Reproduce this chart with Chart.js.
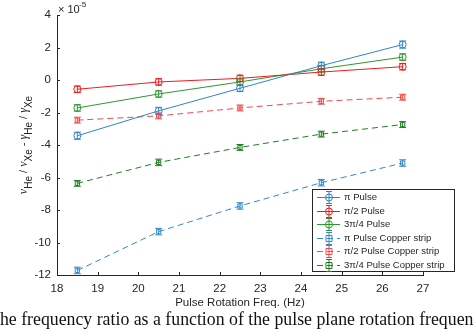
<!DOCTYPE html>
<html>
<head>
<meta charset="utf-8">
<script src="https://cdn.jsdelivr.net/npm/chart.js@4"></script>
<style>
  html, body { margin: 0; padding: 0; background: #fff; overflow: hidden; }
  #wrap { position: relative; width: 474px; height: 330px; }
  #caption {
    position: absolute; left: -5px; top: 309px; white-space: nowrap;
    font: 17.8px "Liberation Serif", "Times New Roman", serif; color: #111;
  }
</style>
</head>
<body>
<div id="wrap">
  <canvas id="ratioChart" width="474" height="330"></canvas>
  <div id="caption">the frequency ratio as a function of the pulse plane rotation frequency</div>
</div>
<script>
// Pulse rotation frequency (Hz)
const freqs = [18.5, 20.5, 22.5, 24.5, 26.5];

// values in units of 1e-5
const piPulse        = [-3.43, -1.90, -0.51, 0.88, 2.18];
const halfPiPulse    = [-0.57, -0.12, 0.10, 0.49, 0.82];
const threeQPulse    = [-1.72, -0.86, -0.12, 0.69, 1.41];
const piCopper       = [-11.72, -9.33, -7.75, -6.32, -5.11];
const halfPiCopper   = [-2.47, -2.21, -1.72, -1.31, -1.06];
const threeQCopper   = [-6.36, -5.07, -4.15, -3.33, -2.74];

// error bar half-widths (1e-5)
const piPulseErr      = [0.22, 0.22, 0.2, 0.22, 0.22];
const halfPiPulseErr  = [0.2, 0.2, 0.2, 0.2, 0.2];
const threeQPulseErr  = [0.2, 0.2, 0.2, 0.2, 0.2];
const piCopperErr     = [0.2, 0.2, 0.2, 0.2, 0.2];
const halfPiCopperErr = [0.18, 0.18, 0.18, 0.18, 0.18];
const threeQCopperErr = [0.18, 0.2, 0.18, 0.18, 0.18];

const xTicks = [18, 19, 20, 21, 22, 23, 24, 25, 26, 27];
const yTicks = [-12, -10, -8, -6, -4, -2, 0, 2, 4];

function series(label, values, errs, color, dashed) {
    return {
        label: label,
        data: freqs.map((f, i) => ({ x: f, y: values[i] })),
        errors: errs,
        borderColor: color,
        backgroundColor: 'rgba(255,255,255,0)',
        borderWidth: 1,
        borderDash: dashed ? [6, 4] : [],
        pointStyle: dashed ? 'rect' : 'circle',
        pointRadius: dashed ? 3 : 3.5,
        pointBorderWidth: 1,
        pointBorderColor: color,
        pointBackgroundColor: 'rgba(255,255,255,0)',
        tension: 0
    };
}

const datasets = [
    series('\u03c0 Pulse', piPulse, piPulseErr, '#2e86c9', false),
    series('\u03c0/2 Pulse', halfPiPulse, halfPiPulseErr, '#ee1c1c', false),
    series('3\u03c0/4 Pulse', threeQPulse, threeQPulseErr, '#2f972f', false),
    series('\u03c0 Pulse Copper strip', piCopper, piCopperErr, '#3389c7', true),
    series('\u03c0/2 Pulse Copper strip', halfPiCopper, halfPiCopperErr, '#f04848', true),
    series('3\u03c0/4 Pulse Copper strip', threeQCopper, threeQCopperErr, '#1f7f1f', true)
];

const axisColor = '#262626';

// error bars, inward ticks, titles, legend
const extras = {
    id: 'extras',
    afterDatasetsDraw(chart) {
        const ctx = chart.ctx;
        const ys = chart.scales.y;
        chart.data.datasets.forEach((ds, di) => {
            const meta = chart.getDatasetMeta(di);
            ctx.save();
            ctx.strokeStyle = ds.borderColor;
            ctx.lineWidth = 1;
            meta.data.forEach((pt, i) => {
                const e = ds.errors[i];
                const top = ys.getPixelForValue(ds.data[i].y + e);
                const bot = ys.getPixelForValue(ds.data[i].y - e);
                ctx.beginPath();
                ctx.moveTo(pt.x, top); ctx.lineTo(pt.x, bot);
                ctx.moveTo(pt.x - 3.5, top); ctx.lineTo(pt.x + 3.5, top);
                ctx.moveTo(pt.x - 3.5, bot); ctx.lineTo(pt.x + 3.5, bot);
                ctx.stroke();
            });
            ctx.restore();
        });
    },
    afterDraw(chart) {
        const ctx = chart.ctx;
        const a = chart.chartArea;
        const xs = chart.scales.x, ys = chart.scales.y;
        ctx.save();
        ctx.strokeStyle = axisColor;
        ctx.lineWidth = 1;
        ctx.beginPath();
        xTicks.forEach(t => {
            const px = Math.round(xs.getPixelForValue(t)) + 0.5;
            ctx.moveTo(px, a.bottom); ctx.lineTo(px, a.bottom - 3);
        });
        yTicks.forEach(t => {
            const py = Math.round(ys.getPixelForValue(t)) + 0.5;
            ctx.moveTo(a.left, py); ctx.lineTo(a.left + 3, py);
        });
        ctx.stroke();

        // x10^-5 label
        ctx.fillStyle = axisColor;
        ctx.font = '11px "Liberation Sans", Arial, sans-serif';
        ctx.textBaseline = 'alphabetic';
        ctx.textAlign = 'left';
        ctx.fillText('\u00d7 10', a.left + 1, 13);
        ctx.font = '8px "Liberation Sans", Arial, sans-serif';
        ctx.fillText('-5', a.left + 22, 7);

        // x axis title
        ctx.font = '11.5px "Liberation Sans", Arial, sans-serif';
        ctx.textAlign = 'center';
        ctx.textBaseline = 'middle';
        ctx.fillText('Pulse Rotation Freq. (Hz)', (a.left + a.right) / 2, 303);

        // y axis title with subscripts
        ctx.translate(27, (a.top + a.bottom) / 2);
        ctx.rotate(-Math.PI / 2);
        const parts = [
            ['\u03bd', 'i'], ['He', 's'], [' / ', 'n'], ['\u03bd', 'i'], ['Xe', 's'],
            [' - ', 'n'], ['\u03b3', 'i'], ['He', 's'], [' / ', 'n'], ['\u03b3', 'i'], ['Xe', 's']
        ];
        const fontFor = k => k === 's' ? '10px "Liberation Sans", Arial, sans-serif'
            : k === 'i' ? 'italic 12px "Liberation Serif", serif'
            : '11px "Liberation Sans", Arial, sans-serif';
        let total = 0;
        parts.forEach(p => { ctx.font = fontFor(p[1]); total += ctx.measureText(p[0]).width; });
        let cx = -total / 2;
        ctx.textAlign = 'left';
        ctx.textBaseline = 'alphabetic';
        parts.forEach(p => {
            ctx.font = fontFor(p[1]);
            ctx.fillText(p[0], cx, p[1] === 's' ? 5 : 0);
            cx += ctx.measureText(p[0]).width;
        });
        ctx.restore();

        // legend box
        const lx = 312, ly = 189, lw = 142, lh = 82, row = 13.6;
        ctx.save();
        ctx.fillStyle = '#fff';
        ctx.fillRect(lx, ly, lw, lh);
        ctx.strokeStyle = '#262626';
        ctx.lineWidth = 1;
        ctx.strokeRect(lx + 0.5, ly + 0.5, lw, lh);
        chart.data.datasets.forEach((ds, i) => {
            const yy = Math.round(ly + 8 + i * row) + 0.5;
            ctx.strokeStyle = ds.borderColor;
            ctx.setLineDash(ds.borderDash);
            ctx.beginPath();
            ctx.moveTo(lx + 5, yy); ctx.lineTo(lx + 28, yy);
            ctx.stroke();
            ctx.setLineDash([]);
            const mx = lx + 17;
            ctx.beginPath();
            if (ds.pointStyle === 'rect') ctx.rect(mx - 3, yy - 3, 6, 6);
            else ctx.arc(mx, yy, 3.5, 0, Math.PI * 2);
            ctx.stroke();
            ctx.beginPath();
            ctx.moveTo(mx, yy - 6); ctx.lineTo(mx, yy + 6);
            ctx.moveTo(mx - 3, yy - 6); ctx.lineTo(mx + 3, yy - 6);
            ctx.moveTo(mx - 3, yy + 6); ctx.lineTo(mx + 3, yy + 6);
            ctx.stroke();
            ctx.fillStyle = axisColor;
            ctx.font = '9.5px "Liberation Sans", Arial, sans-serif';
            ctx.textBaseline = 'middle';
            ctx.textAlign = 'left';
            ctx.fillText(ds.label, lx + 32, yy);
        });
        ctx.restore();
    }
};

new Chart(document.getElementById('ratioChart').getContext('2d'), {
    type: 'line',
    data: { datasets: datasets },
    options: {
        responsive: false,
        animation: false,
        layout: { padding: { left: 0, right: 51, top: 15, bottom: 0 } },
        plugins: {
            legend: { display: false },
            tooltip: { enabled: false }
        },
        scales: {
            x: {
                type: 'linear',
                min: 18,
                max: 27,
                afterFit: s => { s.height = 55; },
                afterBuildTicks: s => { s.ticks = xTicks.map(v => ({ value: v })); },
                grid: { display: true, drawOnChartArea: false, drawTicks: false, color: axisColor },
                border: { display: true, color: axisColor, width: 1 },
                ticks: {
                    padding: 7,
                    color: axisColor,
                    font: { family: '"Liberation Sans", Arial, sans-serif', size: 11.5 }
                }
            },
            y: {
                type: 'linear',
                min: -12,
                max: 4,
                afterFit: s => { s.width = 57; },
                afterBuildTicks: s => { s.ticks = yTicks.map(v => ({ value: v })); },
                grid: { display: true, drawOnChartArea: false, drawTicks: false, color: axisColor },
                border: { display: true, color: axisColor, width: 1 },
                ticks: {
                    padding: 6,
                    color: axisColor,
                    font: { family: '"Liberation Sans", Arial, sans-serif', size: 11.5 }
                }
            }
        }
    },
    plugins: [extras]
});
</script>
</body>
</html>
